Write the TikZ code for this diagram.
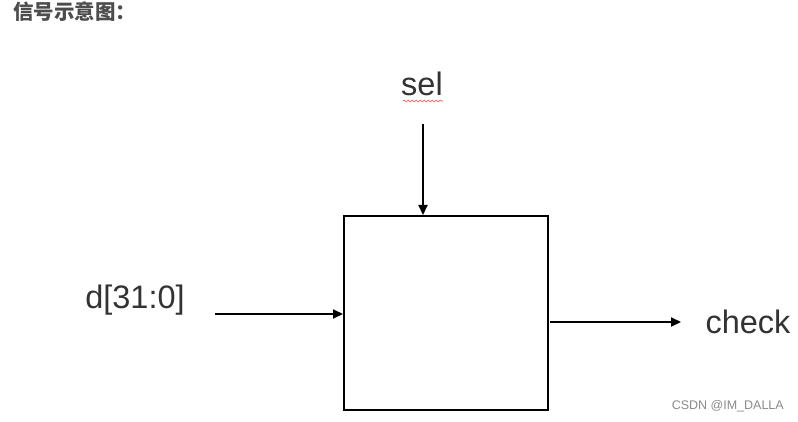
\documentclass[tikz,border=0pt]{standalone}
\usepackage{fontspec}
\setmainfont{Liberation Sans}
\newfontfamily\cjk{Noto Sans CJK SC}
\usetikzlibrary{arrows.meta,decorations.pathmorphing}
\definecolor{labelgray}{HTML}{333333}
\definecolor{titlegray}{HTML}{4D4D4D}
\definecolor{wmgray}{HTML}{8A8A8A}
\tikzset{
  sig/.style={line width=2pt, -{Triangle[length=10pt,width=9pt]}},
  lbl/.style={font=\fontsize{32.5}{36}\selectfont, text=labelgray, inner sep=0pt},
  blockbox/.style={draw, line width=2pt}
}
\begin{document}
\begin{tikzpicture}[x=1pt,y=-1pt]
\useasboundingbox[fill=white] (0,0) rectangle (798,422);
\node[anchor=west, inner sep=0pt, text=titlegray, font=\cjk\bfseries\fontsize{20.5}{22}\selectfont] (title) at (13,12) {信号示意图：};
\node[blockbox, minimum width=204pt, minimum height=194pt, inner sep=0pt] (blk) at (446,313) {};
\node[lbl] (sel) at (422,84) {sel};
\coordinate (selend) at (423,124);
\draw[sig] (selend) -- (selend |- blk.north);
\draw[red!70, line width=0.6pt, decorate, decoration={snake, amplitude=1pt, segment length=4pt}] (403,101) -- (443,101);
\node[lbl] (din) at (135,300) {d[31:0]};
\coordinate (dstart) at (215,314);
\draw[sig] (dstart) -- (dstart -| blk.west);
\node[lbl] (chk) at (748,322) {check};
\coordinate (cstart) at (550,322);
\draw[sig] (cstart) -- (681,322);
\node[anchor=east, inner sep=0pt, text=wmgray, font=\fontsize{12.5}{14}\selectfont] (wm) at (784,406) {CSDN @IM\_DALLA};
\end{tikzpicture}
\end{document}
